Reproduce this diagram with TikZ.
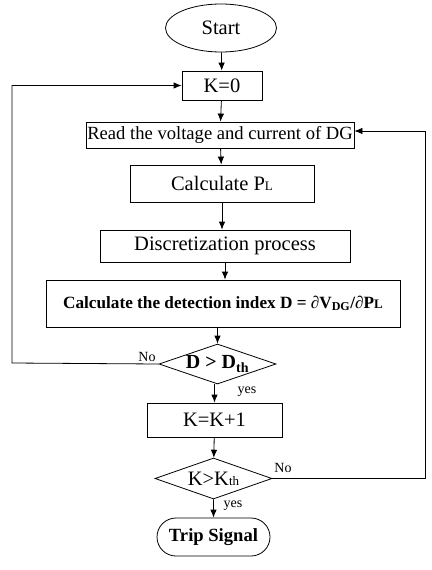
\documentclass[tikz,border=0pt]{standalone}
\usepackage{fontspec}
\setmainfont{Liberation Serif}
\usetikzlibrary{shapes.geometric,shapes.misc,arrows.meta}
\newcommand{\sizeA}{\fontsize{20.5}{22}\selectfont}
\newcommand{\sizeB}{\fontsize{18.6}{20}\selectfont}
\newcommand{\sizeC}{\fontsize{17.2}{19}\selectfont}
\newcommand{\subsz}{\fontsize{13}{13}\selectfont}
\newcommand{\lblsz}{\fontsize{14}{14}\selectfont}
\begin{document}
\begin{tikzpicture}[x=1pt,y=-1pt,line width=0.8pt,
  every node/.style={inner sep=0pt,font=\sizeA},
  stepbox/.style={draw,rectangle},
  decide/.style={draw,diamond,aspect=3},
  flow/.style={-{Latex[length=8pt,width=6.5pt]}}]
\useasboundingbox (0,0) rectangle (431,570);
% terminals
\node[draw,ellipse,minimum width=111pt,minimum height=48pt] (start) at (221,28) {Start};
\node[draw,rounded rectangle,minimum width=113pt,minimum height=38pt,font=\sizeB\bfseries] (trip) at (213.5,537) {Trip Signal};
% process boxes
\node[stepbox,minimum width=80pt,minimum height=29pt] (k0) at (222,85.5) {K=0};
\node[stepbox,minimum width=268pt,minimum height=26pt,font=\sizeB] (read) at (220,135) {Read the voltage and current of DG};
\node[stepbox,minimum width=184pt,minimum height=37pt] (calc) at (222,183.5) {Calculate P{\subsz L}};
\node[stepbox,minimum width=250pt,minimum height=32pt] (disc) at (225,246) {Discretization process};
\node[stepbox,minimum width=354pt,minimum height=47pt,font=\sizeC\bfseries] (index) at (223,303.5) {Calculate the detection index D = ∂V\textsubscript{DG}/∂P{\subsz L}};
\node[stepbox,minimum width=135pt,minimum height=34pt] (kinc) at (214.5,420) {K=K+1};
% decisions
\node[decide,minimum width=117pt,minimum height=40pt,font=\fontsize{20}{22}\selectfont\bfseries] (dth) at (217.5,364) {D > D\textsubscript{th}};
\node[decide,minimum width=117pt,minimum height=41pt] (kth) at (213.5,478.5) {K>K{\subsz th}};
% turning points of the loops
\coordinate (ll) at (12,363);
\coordinate (rr) at (425,131);
% main flow
\draw[flow] (start) -- (k0);
\draw[flow] (k0) -- (read);
\draw[flow] (read) -- (calc);
\draw[flow] (calc) -- (calc |- disc.north);
\draw[flow] (disc.south) -- (disc.south |- index.north);
\draw[flow] (index.south -| dth) -- (dth);
\draw[flow] (dth.south -| kinc) -- (kinc);
\draw[flow] (kinc) -- (kth);
\draw[flow] (kth) -- (trip);
% loops
\draw[flow] (dth.west) -- (ll) |- (k0.west);
\draw[flow] (kth.east) -| (rr) -- (read.east |- rr);
% labels
\node[font=\lblsz] at (147,357) {No};
\node[font=\lblsz] at (247,392) {yes};
\node[font=\lblsz] at (283,468) {No};
\node[font=\lblsz] at (233,506) {yes};
\end{tikzpicture}
\end{document}
